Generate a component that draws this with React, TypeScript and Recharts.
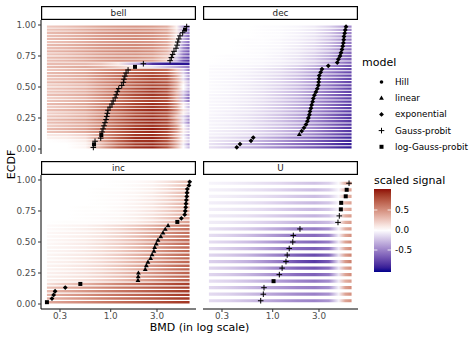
import React from 'react';
import { ComposedChart, XAxis, YAxis, Scatter, ReferenceArea } from 'recharts';

// ---------- shared scales / ticks ----------
const DOSE_GRID = [0.22, 0.35, 0.55, 0.8, 1.2, 1.8, 2.7, 3.8, 4.8, 5.6, 6.5];
const X_DOMAIN = [0.1911, 7.572];
const Y_DOMAIN = [-0.0403, 1.0403];
const X_TICKS = [0.3, 1, 3];
const Y_TICKS = [0, 0.25, 0.5, 0.75, 1];
const MODEL_NAMES = ['Hill', 'linear', 'exponential', 'Gauss-probit', 'log-Gauss-probit'];
const MODEL_CODES = ['H', 'L', 'E', 'G', 'P'];
const LEGEND_TICKS = [0.5, 0, -0.5];
const SIGNAL_LIMITS = [-1.05, 1.025];

// ---------- bell ----------
const bellBMD = [0.662, 0.673, 0.689, 0.789, 0.8, 0.813, 0.833, 0.853, 0.873, 0.895, 0.91, 0.923, 0.938, 0.983,
  1.03, 1.06, 1.11, 1.14, 1.17, 1.21, 1.3, 1.35, 1.37, 1.4, 1.44, 1.51, 1.78, 2.17, 4.09, 4.22, 4.35, 4.49, 4.71,
  4.83, 4.91, 5.03, 5.18, 5.52, 5.83, 6.07];
const bellModel = 'GPGGPGGGGGGGGGGGGGGGGGGGGGPGGGGGGGGGGGPG';
const bellSignal = [
  [0, 0, 5, 38, 72, 92, 97, 78, 32, 0, -30],
  [0, 0, 5, 33, 66, 88, 95, 80, 38, -5, -45],
  [0, 2, 8, 38, 68, 90, 93, 75, 32, 5, -20],
  [5, 8, 15, 44, 72, 93, 97, 82, 38, 0, -25],
  [10, 12, 20, 44, 68, 88, 93, 77, 32, -5, -35],
  [25, 30, 38, 54, 72, 88, 95, 82, 42, 5, -20],
  [30, 35, 42, 60, 77, 93, 99, 88, 48, 5, -25],
  [22, 28, 35, 49, 66, 82, 90, 79, 42, 0, -30],
  [28, 33, 40, 54, 72, 88, 95, 85, 37, -15, -55],
  [30, 35, 42, 60, 75, 90, 97, 88, 42, -10, -50],
  [25, 30, 38, 54, 68, 86, 93, 82, 32, -15, -45],
  [20, 25, 32, 46, 60, 77, 88, 79, 40, 5, -20],
  [28, 33, 40, 56, 72, 88, 95, 88, 48, 10, -15],
  [22, 27, 34, 49, 64, 79, 88, 79, 40, 0, -30],
  [30, 34, 40, 54, 68, 84, 93, 85, 44, 5, -25],
  [25, 30, 36, 49, 62, 77, 86, 79, 37, -20, -60],
  [20, 25, 32, 46, 59, 75, 84, 77, 32, -25, -65],
  [28, 32, 38, 52, 66, 81, 90, 81, 37, -20, -60],
  [24, 28, 34, 48, 62, 77, 88, 79, 32, -15, -50],
  [26, 30, 36, 50, 64, 79, 90, 82, 40, 0, -30],
  [22, 26, 32, 46, 57, 72, 82, 77, 37, 0, -35],
  [30, 34, 40, 52, 64, 77, 86, 79, 42, 5, -30],
  [25, 28, 34, 46, 57, 70, 79, 73, 34, -10, -45],
  [28, 32, 38, 50, 62, 75, 84, 77, 37, -5, -40],
  [30, 34, 40, 52, 62, 73, 79, 70, 32, -15, -50],
  [24, 28, 34, 44, 53, 64, 70, 64, 26, -20, -55],
  [30, 34, 38, 34, 22, 5, -10, -25, -35, -45, -55],
  [30, 30, 30, 25, 10, -30, -85, -95, -98, -98, -98],
  [28, 32, 38, 44, 48, 48, 40, 20, -30, -70, -85],
  [30, 34, 40, 46, 50, 50, 44, 25, -25, -65, -80],
  [26, 30, 36, 42, 46, 48, 44, 28, -15, -55, -75],
  [32, 36, 42, 48, 52, 54, 50, 35, -10, -50, -70],
  [28, 32, 38, 44, 48, 50, 46, 32, -5, -45, -70],
  [30, 34, 40, 46, 50, 52, 50, 38, 0, -40, -65],
  [26, 30, 36, 42, 46, 48, 46, 36, 5, -35, -60],
  [30, 34, 40, 46, 50, 52, 50, 40, 8, -30, -60],
  [28, 32, 38, 44, 48, 50, 48, 38, 5, -35, -65],
  [30, 34, 40, 46, 50, 52, 50, 40, 10, -30, -60],
  [26, 30, 36, 42, 46, 48, 46, 38, 8, -35, -65],
  [24, 28, 34, 40, 44, 46, 44, 36, 5, -40, -70],
];

// ---------- dec ----------
const decBMD = [0.426, 0.46, 0.597, 0.63, 1.88, 1.99, 2.1, 2.2, 2.28, 2.33, 2.39, 2.42, 2.48, 2.52, 2.58, 2.62,
  2.69, 2.79, 2.88, 2.95, 2.98, 3.0, 3.02, 3.12, 3.22, 3.74, 4.63, 4.75, 4.94, 5.06, 5.18, 5.27, 5.35, 5.4, 5.43,
  5.52, 5.6, 5.7];
const decModel = 'EEEELEEEEEEEEEEEEEEEEEEEEEEEEEEEEEEEEE';
const decSignal = [
  [-12, -20, -30, -40, -50, -60, -70, -80, -88, -92, -96],
  [-10, -18, -28, -38, -48, -58, -68, -78, -86, -90, -94],
  [-8, -14, -22, -32, -42, -54, -65, -76, -84, -88, -92],
  [-8, -13, -20, -30, -40, -52, -64, -75, -83, -88, -92],
  [-5, -8, -12, -18, -26, -36, -50, -64, -74, -80, -85],
  [-5, -8, -12, -18, -26, -36, -50, -64, -74, -80, -85],
  [-4, -7, -11, -17, -25, -35, -49, -63, -73, -79, -84],
  [-4, -7, -11, -17, -24, -34, -48, -62, -72, -78, -84],
  [-4, -6, -10, -16, -24, -34, -48, -62, -72, -78, -83],
  [-4, -6, -10, -16, -23, -33, -47, -61, -71, -77, -83],
  [-3, -6, -10, -15, -23, -33, -47, -61, -71, -77, -82],
  [-3, -6, -9, -15, -22, -32, -46, -60, -70, -77, -82],
  [-3, -5, -9, -14, -22, -32, -46, -60, -70, -76, -82],
  [-3, -5, -9, -14, -21, -31, -45, -59, -69, -76, -81],
  [-3, -5, -8, -13, -21, -31, -45, -59, -69, -75, -81],
  [-3, -5, -8, -13, -20, -30, -44, -58, -68, -75, -80],
  [-3, -5, -8, -12, -20, -29, -43, -58, -68, -74, -80],
  [-2, -4, -7, -12, -19, -28, -42, -57, -67, -74, -79],
  [-2, -4, -7, -11, -18, -27, -41, -56, -66, -73, -79],
  [-2, -4, -7, -11, -17, -26, -40, -55, -66, -73, -78],
  [-2, -4, -6, -10, -16, -25, -39, -55, -65, -72, -78],
  [-2, -4, -6, -10, -16, -25, -39, -54, -65, -72, -77],
  [-2, -3, -6, -9, -15, -24, -38, -54, -64, -71, -77],
  [-2, -3, -5, -9, -14, -23, -37, -53, -64, -71, -76],
  [-2, -3, -5, -8, -13, -22, -36, -52, -63, -70, -76],
  [-1, -2, -3, -5, -9, -16, -28, -44, -58, -66, -72],
  [0, -1, -2, -3, -6, -11, -20, -34, -48, -58, -66],
  [0, -1, -2, -3, -5, -10, -19, -33, -47, -57, -65],
  [0, -1, -1, -2, -5, -9, -18, -31, -45, -55, -63],
  [0, 0, -1, -2, -4, -8, -16, -29, -43, -53, -61],
  [0, 0, -1, -2, -4, -8, -15, -28, -42, -52, -60],
  [0, 0, -1, -2, -3, -7, -14, -26, -40, -50, -58],
  [0, 0, -1, -1, -3, -6, -13, -25, -38, -48, -56],
  [0, 0, -1, -1, -3, -6, -12, -24, -37, -47, -55],
  [0, 0, 0, -1, -2, -5, -11, -22, -35, -45, -53],
  [0, 0, 0, -1, -2, -5, -10, -21, -34, -44, -52],
  [0, 0, 0, -1, -2, -4, -9, -19, -32, -42, -50],
  [0, 0, 0, -1, -2, -4, -8, -18, -30, -40, -48],
];

// ---------- inc ----------
const incBMD = [0.22, 0.248, 0.258, 0.267, 0.34, 0.486, 1.91, 1.92, 1.93, 2.27, 2.33, 2.42, 2.58, 2.67, 2.79,
  2.84, 2.95, 3.07, 3.28, 3.46, 3.65, 3.9, 4.86, 5.35, 5.79, 5.87, 5.93, 5.97, 6.02, 6.08, 6.12, 6.16, 6.41, 6.52];
const incModel = 'PEEEEPLLLLLLLLLLLLLLLLPEEEEEEEEEEE';
const incSignal = [
  [38, 46, 53, 59, 65, 71, 77, 82, 86, 88, 90],
  [32, 41, 49, 56, 63, 69, 75, 81, 85, 87, 89],
  [34, 43, 50, 57, 63, 69, 75, 81, 85, 87, 89],
  [30, 39, 47, 54, 61, 67, 74, 80, 84, 86, 88],
  [26, 36, 45, 52, 60, 66, 73, 79, 83, 86, 88],
  [14, 24, 35, 45, 54, 62, 70, 77, 82, 84, 86],
  [7, 10, 14, 20, 28, 38, 49, 59, 65, 69, 72],
  [7, 10, 14, 20, 28, 38, 49, 59, 65, 69, 72],
  [6, 9, 13, 19, 27, 37, 48, 58, 64, 68, 71],
  [5, 8, 12, 17, 25, 35, 46, 57, 63, 67, 70],
  [5, 8, 12, 17, 25, 35, 46, 56, 63, 67, 70],
  [5, 7, 11, 16, 24, 34, 45, 56, 62, 66, 69],
  [4, 7, 11, 16, 23, 33, 44, 55, 62, 66, 69],
  [4, 7, 10, 15, 23, 33, 44, 55, 61, 65, 68],
  [4, 6, 10, 15, 22, 32, 43, 54, 61, 65, 68],
  [4, 6, 9, 14, 21, 31, 42, 54, 60, 64, 67],
  [3, 6, 9, 14, 21, 30, 42, 53, 60, 64, 67],
  [3, 5, 8, 13, 20, 29, 41, 52, 59, 63, 66],
  [3, 5, 8, 12, 19, 28, 40, 51, 58, 62, 66],
  [3, 5, 7, 11, 18, 27, 38, 50, 57, 61, 65],
  [2, 4, 7, 11, 17, 26, 37, 49, 56, 60, 64],
  [2, 4, 6, 10, 16, 24, 35, 47, 55, 59, 63],
  [0, 1, 1, 2, 4, 8, 15, 25, 33, 38, 42],
  [0, 0, 1, 2, 4, 7, 14, 24, 32, 37, 41],
  [0, 0, 1, 2, 3, 7, 13, 22, 30, 35, 39],
  [0, 0, 1, 1, 3, 6, 12, 21, 29, 34, 38],
  [0, 0, 1, 1, 3, 6, 11, 20, 28, 33, 37],
  [0, 0, 0, 1, 2, 5, 10, 19, 27, 32, 36],
  [0, 0, 0, 1, 2, 5, 10, 18, 26, 31, 35],
  [0, 0, 0, 1, 2, 4, 9, 17, 25, 30, 34],
  [0, 0, 0, 1, 2, 4, 8, 16, 24, 29, 33],
  [0, 0, 0, 1, 1, 3, 7, 15, 23, 28, 32],
  [0, 0, 0, 0, 1, 3, 6, 13, 21, 26, 30],
  [0, 0, 0, 0, 1, 2, 5, 12, 19, 24, 28],
];

// ---------- U ----------
const uBMD = [0.752, 0.8, 0.813, 1.02, 1.17, 1.25, 1.37, 1.41, 1.48, 1.61, 1.63, 1.91, 4.71, 4.86, 5.04, 5.08,
  5.66, 5.79, 6.12];
const uModel = 'GGGPGGGGGGGGGGPPPPG';
const uSignal = [
  [-14, -18, -25, -32, -40, -47, -50, -42, -5, 40, 50],
  [-14, -18, -25, -32, -40, -47, -51, -43, -5, 40, 50],
  [-15, -20, -27, -34, -42, -49, -53, -45, -5, 42, 52],
  [-13, -17, -24, -31, -40, -49, -55, -46, -8, 35, 45],
  [-16, -21, -29, -38, -49, -60, -64, -54, -10, 40, 52],
  [-16, -21, -29, -38, -51, -64, -70, -58, -10, 38, 50],
  [-18, -23, -31, -42, -55, -72, -82, -68, -12, 45, 58],
  [-16, -21, -29, -40, -53, -66, -74, -62, -10, 42, 55],
  [-14, -20, -27, -36, -47, -60, -66, -56, -8, 40, 52],
  [-13, -18, -25, -34, -45, -56, -62, -52, -8, 40, 52],
  [-13, -18, -25, -34, -45, -56, -60, -50, -6, 38, 50],
  [-11, -15, -20, -27, -36, -47, -53, -44, -5, 35, 45],
  [-7, -9, -13, -17, -22, -28, -32, -26, -4, 35, 45],
  [-7, -9, -12, -16, -21, -26, -30, -24, -4, 35, 45],
  [-6, -8, -11, -14, -19, -24, -28, -22, -3, 30, 42],
  [-6, -8, -11, -14, -19, -24, -28, -22, -3, 32, 42],
  [-5, -7, -10, -13, -17, -22, -26, -20, -3, 30, 40],
  [-5, -7, -10, -13, -17, -22, -26, -20, -3, 32, 42],
  [-4, -6, -9, -12, -15, -20, -24, -18, -2, 35, 45],
];

// ---------- colour (Lab interpolation like ggplot) ----------
const LOW_COL = '#00008B';
const MID_COL = '#FFFFFF';
const HIGH_COL = '#8B0000';

function hexToLab(hex: string) {
  const n = parseInt(hex.slice(1), 16);
  const rgb = [(n >> 16) & 255, (n >> 8) & 255, n & 255].map((c) => {
    const v = c / 255;
    return v <= 0.04045 ? v / 12.92 : Math.pow((v + 0.055) / 1.055, 2.4);
  });
  const [r, g, b] = rgb;
  const X = (0.4124 * r + 0.3576 * g + 0.1805 * b) / 0.95047;
  const Y = 0.2126 * r + 0.7152 * g + 0.0722 * b;
  const Z = (0.0193 * r + 0.1192 * g + 0.9505 * b) / 1.08883;
  const f = (t: number) => (t > 0.008856 ? Math.cbrt(t) : 7.787 * t + 16 / 116);
  const fx = f(X), fy = f(Y), fz = f(Z);
  return [116 * fy - 16, 500 * (fx - fy), 200 * (fy - fz)];
}
function labToHex(lab: number[]) {
  const [L, a, b] = lab;
  const fy = (L + 16) / 116;
  const fx = fy + a / 500;
  const fz = fy - b / 200;
  const inv = (f: number) => (f * f * f > 0.008856 ? f * f * f : (f - 16 / 116) / 7.787);
  const X = 0.95047 * inv(fx), Y = inv(fy), Z = 1.08883 * inv(fz);
  const lin = [
    3.2406 * X - 1.5372 * Y - 0.4986 * Z,
    -0.9689 * X + 1.8758 * Y + 0.0415 * Z,
    0.0557 * X - 0.204 * Y + 1.057 * Z,
  ];
  const out = lin.map((c) => {
    const v = c <= 0.0031308 ? 12.92 * c : 1.055 * Math.pow(c, 1 / 2.4) - 0.055;
    return Math.max(0, Math.min(255, Math.round(v * 255)));
  });
  return '#' + out.map((c) => c.toString(16).padStart(2, '0')).join('');
}
const LAB_LOW = hexToLab(LOW_COL);
const LAB_MID = hexToLab(MID_COL);
const LAB_HIGH = hexToLab(HIGH_COL);
function colorFor(v: number) {
  const lim = Math.max(-SIGNAL_LIMITS[0], SIGNAL_LIMITS[1]);
  let t = Math.max(-1, Math.min(1, v / lim));
  const end = t >= 0 ? LAB_HIGH : LAB_LOW;
  t = Math.abs(t);
  return labToHex(LAB_MID.map((m, i) => m + (end[i] - m) * t));
}

// ---------- point shapes ----------
function Glyph({ x, y, code }: { x: number; y: number; code: string }) {
  switch (code) {
    case 'H':
      return <circle cx={x} cy={y} r={1.8} fill="#000" />;
    case 'L':
      return <polygon points={`${x},${y - 2.6} ${x + 2.4},${y + 1.6} ${x - 2.4},${y + 1.6}`} fill="#000" />;
    case 'E':
      return <polygon points={`${x},${y - 2.4} ${x + 2.4},${y} ${x},${y + 2.4} ${x - 2.4},${y}`} fill="#000" />;
    case 'G':
      return (
        <g stroke="#000" strokeWidth={1}>
          <line x1={x - 2.8} y1={y} x2={x + 2.8} y2={y} />
          <line x1={x} y1={y - 2.8} x2={x} y2={y + 2.8} />
        </g>
      );
    default:
      return <rect x={x - 2} y={y - 2} width={4} height={4} fill="#000" />;
  }
}
const renderPoint = (props: any) => {
  const { cx, cy, payload } = props;
  if (cx == null || cy == null) return <g />;
  return <Glyph x={cx} y={cy} code={payload.m} />;
};

const FONT = 'DejaVu Sans';
const PLOT_H = 134;

function Panel({ id, left, top, width, height, showX, showY, bmd, models, signal, thick }: any) {
  const n = bmd.length;
  const pts = bmd.map((b: number, i: number) => ({ x: b, y: (i + 0.5) / n, m: models[i] }));
  const half = ((Y_DOMAIN[1] - Y_DOMAIN[0]) / PLOT_H) * (thick / 2);
  const lo = Math.log(DOSE_GRID[0]);
  const hi = Math.log(DOSE_GRID[DOSE_GRID.length - 1]);
  return (
    <div style={{ position: 'absolute', left, top }}>
      <ComposedChart width={width} height={height} margin={{ top: 20, right: 0, bottom: 0, left: 0 }}
        style={{ fontFamily: FONT }}>
        <defs>
          {signal.map((row: number[], i: number) => (
            <linearGradient key={i} id={`${id}-${i}`} x1="0" x2="1" y1="0" y2="0">
              {row.map((v, j) => (
                <stop key={j} offset={(Math.log(DOSE_GRID[j]) - lo) / (hi - lo)} stopColor={colorFor(v / 100)} />
              ))}
            </linearGradient>
          ))}
        </defs>
        <XAxis type="number" dataKey="x" scale="log" domain={X_DOMAIN} allowDataOverflow ticks={X_TICKS}
          interval={0} hide={!showX} height={20} tickFormatter={(v: number) => v.toFixed(1)}
          axisLine={{ stroke: '#000', strokeWidth: 1 }} tickLine={{ stroke: '#333' }} tickSize={3} tickMargin={1}
          tick={{ fontSize: 8.8, fill: '#4D4D4D', fontFamily: FONT }} />
        <YAxis type="number" dataKey="y" domain={Y_DOMAIN} allowDataOverflow ticks={Y_TICKS} hide={!showY}
          interval={0} width={41} tickFormatter={(v: number) => v.toFixed(2)}
          axisLine={{ stroke: '#000', strokeWidth: 1 }} tickLine={{ stroke: '#333' }} tickSize={3} tickMargin={2}
          tick={{ fontSize: 8.8, fill: '#4D4D4D', fontFamily: FONT }} />
        {pts.map((p: any, i: number) => (
          <ReferenceArea key={i} x1={DOSE_GRID[0]} x2={DOSE_GRID[DOSE_GRID.length - 1]} y1={p.y - half}
            y2={p.y + half} fill={`url(#${id}-${i})`} fillOpacity={1} stroke="none" ifOverflow="visible" />
        ))}
        <Scatter data={pts} dataKey="y" isAnimationActive={false} shape={renderPoint} />
      </ComposedChart>
    </div>
  );
}

function Strip({ x, y, label }: { x: number; y: number; label: string }) {
  return (
    <g>
      <rect x={x + 0.6} y={y + 0.6} width={153.8} height={12.8} fill="#fff" stroke="#000" strokeWidth={1.2} />
      <text x={x + 77.5} y={y + 7.2} textAnchor="middle" dominantBaseline="central" fontSize={8.8} fill="#1A1A1A"
        fontFamily={FONT}>{label}</text>
    </g>
  );
}

export default function App() {
  const barTop = 189, barBottom = 272, barX = 374, barW = 17;
  const vToY = (v: number) => barTop + ((SIGNAL_LIMITS[1] - v) / (SIGNAL_LIMITS[1] - SIGNAL_LIMITS[0])) * (barBottom - barTop);
  const barStops = Array.from({ length: 21 }, (_, k) => {
    const v = SIGNAL_LIMITS[1] - (k / 20) * (SIGNAL_LIMITS[1] - SIGNAL_LIMITS[0]);
    return { off: k / 20, c: colorFor(v) };
  });
  return (
    <div style={{ position: 'absolute', left: 0, top: 0, width: 474, height: 338, background: '#fff', fontFamily: FONT }}>
      <Panel id="bell" left={0} top={0} width={196} height={154} showX={false} showY bmd={bellBMD}
        models={bellModel.split('')} signal={bellSignal} thick={2.3} />
      <Panel id="dec" left={203} top={0} width={155} height={154} showX={false} showY={false} bmd={decBMD}
        models={decModel.split('')} signal={decSignal} thick={2.3} />
      <Panel id="inc" left={0} top={155} width={196} height={174} showX showY bmd={incBMD}
        models={incModel.split('')} signal={incSignal} thick={2.4} />
      <Panel id="U" left={203} top={155} width={155} height={174} showX showY={false} bmd={uBMD}
        models={uModel.split('')} signal={uSignal} thick={3.2} />
      <svg width={474} height={338} style={{ position: 'absolute', left: 0, top: 0, pointerEvents: 'none' }}>
        <defs>
          <linearGradient id="cbar" x1="0" x2="0" y1="0" y2="1">
            {barStops.map((s, i) => <stop key={i} offset={s.off} stopColor={s.c} />)}
          </linearGradient>
        </defs>
        <Strip x={41} y={6} label="bell" />
        <Strip x={203} y={6} label="dec" />
        <Strip x={41} y={161} label="inc" />
        <Strip x={203} y={161} label="U" />
        <text x={11} y={164.5} transform="rotate(-90 11 164.5)" textAnchor="middle" dominantBaseline="central"
          fontSize={11} fill="#000" fontFamily={FONT}>ECDF</text>
        <text x={199.5} y={327} textAnchor="middle" dominantBaseline="central" fontSize={11} fill="#000"
          fontFamily={FONT}>BMD (in log scale)</text>
        <text x={362} y={62} dominantBaseline="central" fontSize={11} fill="#000" fontFamily={FONT}>model</text>
        {MODEL_NAMES.map((name, i) => (
          <g key={name}>
            <Glyph x={381.5} y={82 + i * 16.2} code={MODEL_CODES[i]} />
            <text x={395} y={82 + i * 16.2} dominantBaseline="central" fontSize={8.8} fill="#000"
              fontFamily={FONT}>{name}</text>
          </g>
        ))}
        <text x={374} y={180} dominantBaseline="central" fontSize={11} fill="#000" fontFamily={FONT}>scaled signal</text>
        <rect x={barX} y={barTop} width={barW} height={barBottom - barTop} fill="url(#cbar)" />
        {LEGEND_TICKS.map((v) => (
          <g key={v}>
            <line x1={barX} x2={barX + 3.4} y1={vToY(v)} y2={vToY(v)} stroke="#fff" strokeWidth={0.8} />
            <line x1={barX + barW - 3.4} x2={barX + barW} y1={vToY(v)} y2={vToY(v)} stroke="#fff" strokeWidth={0.8} />
            <text x={395} y={vToY(v)} dominantBaseline="central" fontSize={8.8} fill="#000" fontFamily={FONT}>
              {v.toFixed(1)}
            </text>
          </g>
        ))}
      </svg>
    </div>
  );
}
